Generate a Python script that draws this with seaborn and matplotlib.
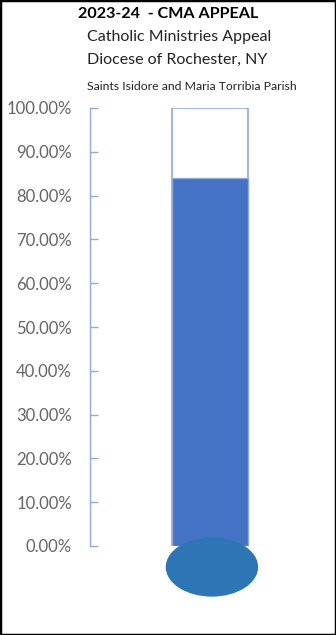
import matplotlib
matplotlib.use("Agg")
import matplotlib.pyplot as plt
import seaborn as sns
import pandas as pd
from matplotlib.patches import Ellipse, Rectangle
from matplotlib.ticker import FuncFormatter

categories = ["CMA Appeal"]
goal = [1.0]
raised = [0.84]
title_lines = ["2023-24  - CMA APPEAL", "Catholic Ministries Appeal",
               "Diocese of Rochester, NY", "Saints Isidore and Maria Torribia Parish"]

sns.set_style("white")
plt.rcParams['font.family'] = ['Lato', 'DejaVu Sans']

df = pd.DataFrame({"cat": categories, "goal": goal, "raised": raised})

fig = plt.figure(figsize=(3.36, 6.35), dpi=100)
W, H = 336, 635
ax = fig.add_axes([90 / W, 1 - 546 / H, 240 / W, 438 / H])

edge = "#8FAADC"
sns.barplot(data=df, x="cat", y="goal", color="white", edgecolor=edge,
            linewidth=1.2, width=0.317, ax=ax, saturation=1)
sns.barplot(data=df, x="cat", y="raised", color="#4472C4", edgecolor=edge,
            linewidth=1.0, width=0.317, ax=ax, saturation=1)

ax.set_xlim(-0.5, 0.5)
ax.set_ylim(0, 1)
ax.add_patch(Ellipse((0.008, -0.048), 0.379, 0.132, color="#2E75B6",
                     clip_on=False, zorder=5))

ax.set_yticks([i / 10 for i in range(11)])
ax.yaxis.set_major_formatter(FuncFormatter(lambda v, p: f"{v*100:.2f}%"))
ax.tick_params(axis="y", direction="in", length=6, width=1, color=edge,
               pad=13, labelsize=12, labelcolor="#646464", left=True)
ax.set_xticks([])
ax.set_xlabel("")
ax.set_ylabel("")
for s in ["top", "right", "bottom"]:
    ax.spines[s].set_visible(False)
ax.spines["left"].set_color(edge)
ax.spines["left"].set_linewidth(1)

fig.text(168 / W, 1 - 14 / H, title_lines[0], ha="center", va="center",
         fontsize=11.6, fontweight="bold", color="black")
fig.text(87 / W, 1 - 37 / H, title_lines[1], ha="left", va="center",
         fontsize=11.5, color="#222222")
fig.text(87 / W, 1 - 60 / H, title_lines[2], ha="left", va="center",
         fontsize=11.5, color="#222222")
fig.text(87 / W, 1 - 86 / H, title_lines[3], ha="left", va="center",
         fontsize=8.8, color="#222222")

fig.patches.append(Rectangle((0, 0), 1, 1, transform=fig.transFigure,
                             fill=False, edgecolor="black", linewidth=2.5))

fig.savefig("out.png", dpi=100)
